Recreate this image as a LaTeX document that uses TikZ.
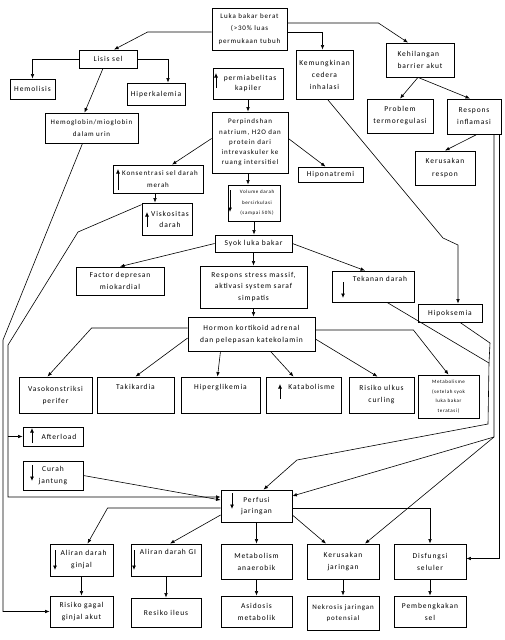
\documentclass[tikz,border=0pt]{standalone}
\usepackage{fontspec}
\setmainfont{Carlito}[LetterSpace=12]
\usepackage{tikz}
\usetikzlibrary{arrows.meta,calc}

\tikzset{
  kotak/.style={draw,line width=0.8pt,align=center,inner sep=1pt,font=\fontsize{7.5}{12}\selectfont},
  ukuran/.style 2 args={minimum width=#1pt,minimum height=#2pt},
  tanda/.style={-{Latex[length=4.5pt,width=4pt]},line width=0.8pt}
}

\begin{document}
\begin{tikzpicture}[x=1pt,y=-1pt,>={Latex[length=4.5pt,width=3.6pt]},line width=0.6pt]
\useasboundingbox (0,0) rectangle (505,640);

\node[kotak,ukuran={75}{42},font=\fontsize{7}{12.5}\selectfont] (luka) at (249.5,29) {Luka bakar berat\\(>30\% luas\\permukaan tubuh};
\node[kotak,ukuran={58}{18}] (lisis) at (108,59) {Lisis sel};
\node[kotak,ukuran={45}{20}] (hemolisis) at (32.5,89) {Hemolisis};
\node[kotak,ukuran={58}{22}] (hiperkal) at (156,94) {Hiperkalemia};
\node[kotak,ukuran={93}{30},font=\fontsize{7}{12}\selectfont] (hemoglob) at (91.5,128) {Hemoglobin/mioglobin\\dalam urin};
\node[kotak,ukuran={70}{31},font=\fontsize{7.5}{10}\selectfont] (permeab) at (248,83.5) {\hspace*{4pt}permiabelitas\\kapiler};
\node[kotak,ukuran={57}{49}] (kemungk) at (324.5,74.5) {Kemungkinan\\cedera\\inhalasi};
\node[kotak,ukuran={68}{34},align=left] (kehilang) at (420,60) {Kehilangan\\barrier akut};
\node[kotak,ukuran={66}{34}] (problem) at (400,116) {Problem\\termoregulasi};
\node[kotak,ukuran={54}{35}] (respinfl) at (474,116.5) {Respons\\inflamasi};
\node[kotak,ukuran={60}{34},font=\fontsize{7.5}{13}\selectfont] (kerusresp) at (445,168) {Kerusakan\\respon};
\node[kotak,ukuran={76}{61},font=\fontsize{7}{10.3}\selectfont] (pindah) at (250,142.5) {Perpindshan\\natrium, H2O dan\\protein dari\\intrevaskuler ke\\ruang intersitiel};
\node[kotak,ukuran={90}{28},font=\fontsize{7}{12}\selectfont] (konsent) at (158,179) {\hspace*{4pt}Konsentrasi sel darah\\merah};
\node[kotak,ukuran={65}{15}] (hiponat) at (330.5,174.5) {Hiponatremi};
\node[kotak,ukuran={50}{32},font=\fontsize{7.5}{11}\selectfont] (viskos) at (167,219) {\hspace*{6pt}Viskositas\\\hspace*{6pt}darah};
\node[kotak,ukuran={52}{36},font=\fontsize{5}{10.5}\selectfont] (volume) at (254,203) {\hspace*{6pt}Volume darah\\\hspace*{6pt}bersirkulasi\\\hspace*{6pt}(sampai 50\%)};
\node[kotak,ukuran={77}{17}] (syok) at (253.5,243.5) {Syok luka bakar};
\node[kotak,ukuran={88}{28}] (factor) at (120,281) {Factor depresan\\miokardial};
\node[kotak,ukuran={107}{42},font=\fontsize{7.5}{11.5}\selectfont] (respstress) at (253.5,287) {Respons stress massif,\\aktivasi system saraf\\simpatis};
\node[kotak,ukuran={82}{31}] (tekanan) at (373,286.5) {\hspace*{14pt}Tekanan darah\\\strut};
\node[kotak,ukuran={64}{18}] (hipoks) at (450,313) {Hipoksemia};
\node[kotak,ukuran={127}{34}] (hormon) at (251.5,334) {Hormon kortikoid adrenal\\dan pelepasan katekolamin};
\node[kotak,ukuran={73}{36}] (vaso) at (55.5,395) {Vasokonstriksi\\perifer};
\node[kotak,ukuran={77}{36}] (takik) at (135.5,395) {Takikardia\\\strut};
\node[kotak,ukuran={79}{36}] (hipergl) at (220.5,395) {Hiperglikemia\\\strut};
\node[kotak,ukuran={75}{36}] (katab) at (303.5,395) {\hspace*{16pt}Katabolisme\\\strut};
\node[kotak,ukuran={65}{36}] (ulkus) at (381.5,395) {Risiko ulkus\\curling};
\node[kotak,ukuran={61}{43},font=\fontsize{5}{9.7}\selectfont] (metabol) at (448.5,396.5) {Metabolisme\\(setelah syok\\luka bakar\\teratasi)};
\node[kotak,ukuran={60}{19}] (afterload) at (53,436.5) {\hspace*{12pt}Afterload};
\node[kotak,ukuran={60}{29}] (curah) at (53,475.5) {Curah\\jantung};
\node[kotak,ukuran={71}{32},font=\fontsize{7.5}{11}\selectfont] (perfusi) at (256.5,506) {Perfusi\\jaringan};
\node[kotak,ukuran={63}{32}] (aliranginjal) at (81.5,560) {\hspace*{4pt}Aliran darah\\ginjal};
\node[kotak,ukuran={70}{32}] (alirangi) at (166,560) {\hspace*{4pt}Aliran darah GI\\\strut};
\node[kotak,ukuran={71}{35}] (metanaer) at (256.5,561.5) {Metabolism\\anaerobik};
\node[kotak,ukuran={72}{35}] (kerusjar) at (343,561.5) {Kerusakan\\jaringan};
\node[kotak,ukuran={72}{35}] (disfungsi) at (430,561.5) {Disfungsi\\seluler};
\node[kotak,ukuran={63}{31}] (risgagal) at (81.5,611.5) {Risiko gagal\\ginjal akut};
\node[kotak,ukuran={70}{29}] (resileus) at (166,612.5) {Resiko ileus};
\node[kotak,ukuran={71}{31}] (asidosis) at (256.5,611.5) {Asidosis\\metabolik};
\node[kotak,ukuran={72}{34},font=\fontsize{7}{11}\selectfont] (nekrosis) at (343,613) {Nekrosis jaringan\\potensial};
\node[kotak,ukuran={72}{31}] (pembeng) at (430,611.5) {Pembengkakan\\sel};

\draw[tanda] (216,88) -- (216,73);
\draw[tanda] (118,190) -- (118,169);
\draw[tanda] (147,227) -- (147,212);
\draw[tanda] (230,190) -- (230,212);
\draw[tanda] (343,282) -- (343,298);
\draw[tanda] (280,399) -- (280,384);
\draw[tanda] (32,443) -- (32,428);
\draw[tanda] (32,465) -- (32,481);
\draw[tanda] (232,493) -- (232,509);
\draw[tanda] (55,550) -- (55,570);
\draw[tanda] (134,550) -- (134,570);

\coordinate (k1) at (443,238);
\coordinate (k2) at (458,245);
\coordinate (h1) at (3,340);
\coordinate (v1) at (78,232);
\coordinate (v2) at (8,345);
\coordinate (pin) at ([yshift=9pt]perfusi.west);
\coordinate (h2) at (490,343);
\coordinate (t1) at (489,363);
\coordinate (t2) at (488,424);
\coordinate (t3) at (297,460);
\coordinate (r1) at (494,437);
\coordinate (r3) at (499,0);

\draw[->] ([yshift=-3pt]luka.west) -- ++(-64,0) -- ([xshift=6pt]lisis.north);
\draw[->] (lisis.west) -| (hemolisis.north);
\draw[->] (lisis.east) -| ([xshift=12pt]hiperkal.north);
\draw[->] ([xshift=-5pt]lisis.south) -- ([xshift=-7pt]hemoglob.north);
\draw[->] ([yshift=-3pt]luka.east) -| ([xshift=-2pt]kemungk.north);
\draw[->] ([yshift=6pt]luka.east) -- ++(91,0) -- ([xshift=-12pt]kehilang.north);
\draw[->] ([xshift=-2pt]kehilang.south) -- (problem.north);
\draw[->] ([xshift=-2pt]kehilang.south) -- ([xshift=-4pt]respinfl.north);
\draw[->] ([xshift=3pt]respinfl.south) -- (kerusresp.north);
\draw[->] (permeab.south) -- (permeab.south |- pindah.north);
\draw[->] ([yshift=4pt]pindah.west) -- ([xshift=14pt]konsent.north);
\draw[->] ([yshift=4pt]pindah.east) -- ([xshift=-5pt]hiponat.north);
\draw[->] ([xshift=-2pt]pindah.south) -- ([xshift=-2pt]pindah.south |- volume.north);
\draw[->] ([xshift=-3pt]konsent.south) -- ([xshift=-3pt]konsent.south |- viskos.north);
\draw[->] (volume.south) -- (volume.south |- syok.north);
\draw[->] (syok.west) -- (factor.north);
\draw[->] (syok.east) -- ([xshift=-8pt]tekanan.north);
\draw[->] (syok.south) -- (syok.south |- respstress.north);
\draw[->] (respstress.south) -- (respstress.south |- hormon.north);
\draw[->] ([yshift=6pt]hormon.west) -- ++(-96,0) -- ([xshift=-8pt]vaso.north);
\draw[->] ([yshift=-4pt]hormon.west) -- (takik.north);
\draw[->] ([xshift=-31pt]hormon.south) -- ([xshift=-3pt]hipergl.north);
\draw[->] ([xshift=19pt]hormon.south) -- ([xshift=-10pt]katab.north);
\draw[->] ([yshift=-5pt]hormon.east) -- ([xshift=-4pt]ulkus.north);
\draw[->] ([yshift=4pt]hormon.east) -- ++(98,0) -- (metabol.north);
\draw[->] ([xshift=3pt]kemungk.south) -- (k1) -- (k2) -- (k2 |- hipoks.north);
\draw[->] ([xshift=-9pt]hemoglob.south) -- (h1) -- (h1 |- risgagal.west) -- (risgagal.west);
\draw[->] ([yshift=-2pt]viskos.north west) -- (v1) -- (v2) -- (v2 |- pin) -- (pin);
\draw[->] (v2 |- afterload.west) -- (afterload.west);
\draw[->] (curah.east) -- ([yshift=6pt]perfusi.west);
\draw[->] ([yshift=-2pt]perfusi.west) -- ++(-113,0) -- ([xshift=6pt]aliranginjal.north);
\draw[->] ([yshift=-9pt]perfusi.west) -- ([xshift=4pt]alirangi.north);
\draw[->] (perfusi.south) -- (metanaer.north);
\draw[->] ([yshift=-9pt]perfusi.east) -- ([xshift=-17pt]kerusjar.north);
\draw[->] ([yshift=-2pt]perfusi.east) -| (disfungsi.north);
\draw[->] (aliranginjal.south) -- (risgagal.north);
\draw[->] (alirangi.south) -- (resileus.north);
\draw[->] (metanaer.south) -- (asidosis.north);
\draw[->] (kerusjar.south) -- (nekrosis.north);
\draw[->] (disfungsi.south) -- (pembeng.north);
\draw[->] ([xshift=14pt]tekanan.south) -- (t1) -- (t2) -- (t3) -- ([xshift=7pt]perfusi.north);
\draw ([xshift=10pt]hipoks.south) -- (h2) -- (t1);
\draw[->] (r1 |- respinfl.south) -- (r1) -- ([yshift=10pt]perfusi.east);
\draw[->] (r1) -- ([xshift=22pt]kerusjar.north);
\draw[->] (r3 |- respinfl.south) |- ([yshift=3pt]disfungsi.east);
\end{tikzpicture}
\end{document}
